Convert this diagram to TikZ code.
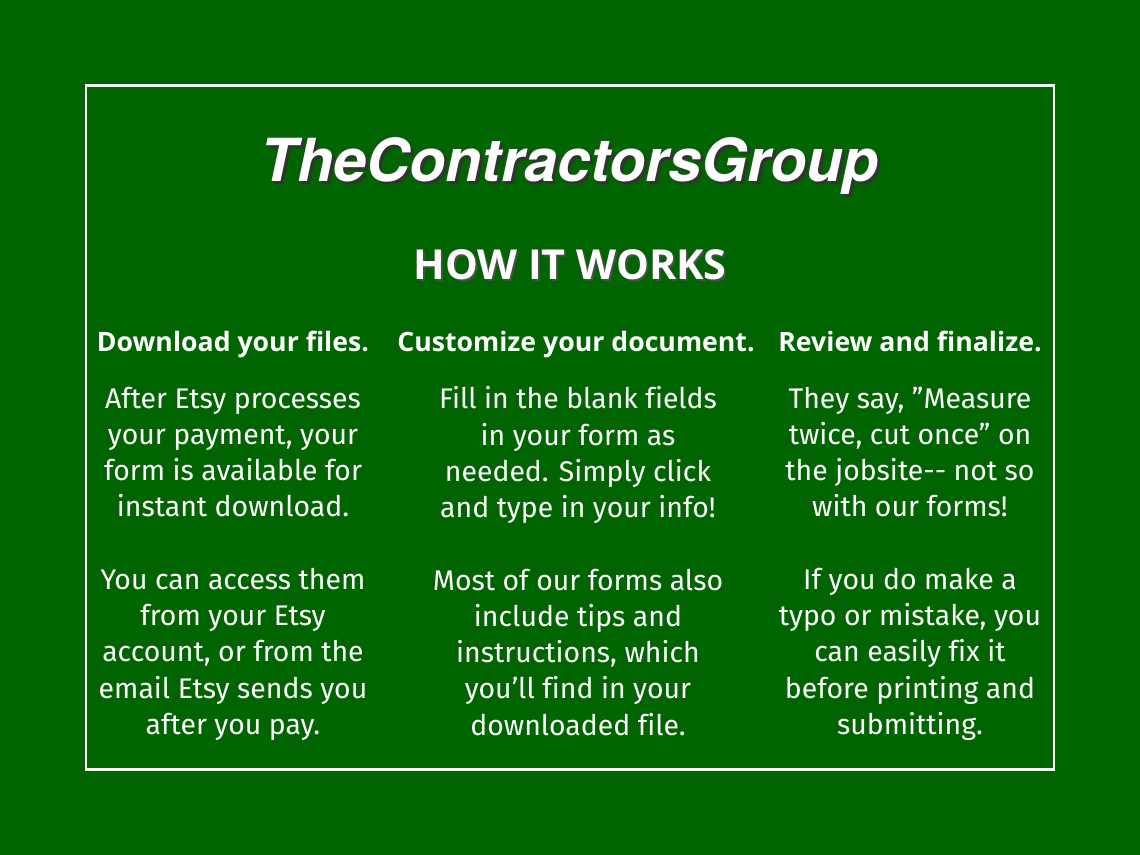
\documentclass[tikz,border=0pt]{standalone}
\usepackage{fontspec}
\setmainfont[Ligatures=NoCommon]{Fira Sans}
\newfontfamily\titlefont{TeX Gyre Heros}
\newfontfamily\headfont{Open Sans}
\definecolor{bg}{HTML}{006400}
\begin{document}
\begin{tikzpicture}[x=0.75pt,y=-0.75pt,
  title/.style={font=\titlefont\bfseries\itshape\fontsize{44.5}{54}\selectfont},
  colhead/.style={font=\headfont\bfseries\fontsize{20}{24}\selectfont,text=white,anchor=base},
  body/.style={font=\fontsize{21.3}{27.2}\selectfont,text=white,align=center,anchor=north}]
\fill[bg] (0,0) rectangle (1140,855);
\useasboundingbox (0,0) rectangle (1140,855);
\node[draw=white,line width=2.2pt,minimum width=968*0.75pt,minimum height=684*0.75pt,inner sep=0pt] (frame) at (570,427.5) {};
\node[title,text=black!80] (ts) at (573,169) {TheContractorsGroup};
\node[title,text=white] (t) at (570,166) {TheContractorsGroup};
\node[font=\headfont\bfseries\fontsize{31}{36}\selectfont,text=black!70] (hs) at (572,267) {HOW IT WORKS};
\node[font=\headfont\bfseries\fontsize{31}{36}\selectfont,text=white] (h) at (570,265) {HOW IT WORKS};
\node[colhead] (c1) at (233,352) {Download your files.};
\node[colhead] (c2) at (576,352) {Customize your document.};
\node[colhead] (c3) at (910,352) {Review and finalize.};
\node[body] (b1) at (233,382) {After Etsy processes\\your payment, your\\form is available for\\instant download.\\[27.2pt]You can access them\\from your Etsy\\account, or from the\\email Etsy sends you\\after you pay.};
\node[body] (b2) at (578,382) {Fill in the blank fields\\in your form as\\needed. Simply click\\and type in your info!\\[27.2pt]Most of our forms also\\include tips and\\instructions, which\\you\char39ll find in your\\downloaded file.};
\node[body] (b3) at (910,382) {They say, \char34 Measure\\twice, cut once\char34{} on\\the jobsite-{}- not so\\with our forms!\\[27.2pt]If you do make a\\typo or mistake, you\\can easily fix it\\before printing and\\submitting.};
\end{tikzpicture}
\end{document}
